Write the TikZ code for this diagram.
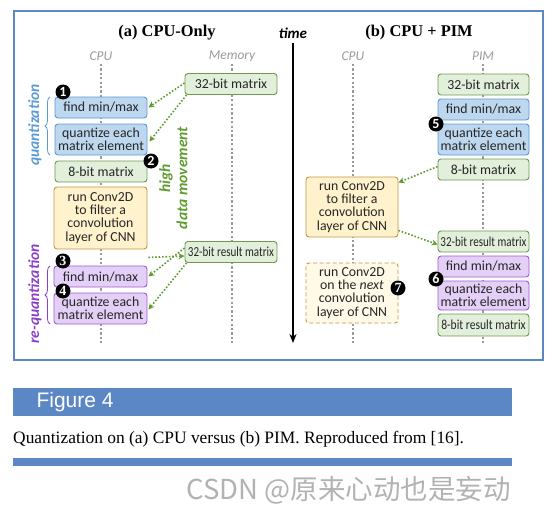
\documentclass[tikz,border=0pt]{standalone}
\usepackage{fontspec}
\setmainfont{Liberation Serif}
\newfontfamily\boxfont{Carlito}
\newfontfamily\arialfont{Liberation Sans}
\newfontfamily\cjkfont{Noto Sans CJK SC}
\usetikzlibrary{arrows.meta,decorations.pathreplacing}
\definecolor{frameblue}{HTML}{5B87C5}
\definecolor{gfill}{HTML}{E2EFDA}
\definecolor{gline}{HTML}{6E9A4F}
\definecolor{bfill}{HTML}{BDD7EE}
\definecolor{bline}{HTML}{5B9BD5}
\definecolor{pfill}{HTML}{E4CFF7}
\definecolor{pline}{HTML}{9A5ECF}
\definecolor{yfill}{HTML}{FFF2CC}
\definecolor{yline}{HTML}{BF9A3F}
\definecolor{arrowgreen}{HTML}{5E9C2F}
\definecolor{labgreen}{HTML}{5E9C2F}
\definecolor{labblue}{HTML}{5B9BD5}
\definecolor{labpurple}{HTML}{8A3FC8}
\definecolor{lanegray}{HTML}{9A9A9A}
\tikzset{
  bx/.style={draw, rounded corners=3pt, line width=0.9pt, align=center,
    font=\boxfont\fontsize{13.8}{13.2}\selectfont, text=black!85, inner sep=1pt,
    minimum width=92pt},
  gbx/.style={bx, fill=gfill, draw=gline, minimum height=21pt},
  bbx/.style={bx, fill=bfill, draw=bline},
  pbx/.style={bx, fill=pfill, draw=pline},
  ybx/.style={bx, fill=yfill, draw=yline},
  badge/.style={circle, fill=black, text=white, inner sep=0pt, minimum size=15pt,
    font=\boxfont\bfseries\fontsize{14}{14}\selectfont},
  badgeserif/.style={badge, font=\bfseries\fontsize{14}{14}\selectfont},
  lane/.style={draw=lanegray, line width=2.2pt, dash pattern=on 2.2pt off 2.2pt},
  lanelab/.style={text=lanegray, font=\boxfont\itshape\fontsize{13.5}{13.5}\selectfont},
  mv/.style={draw=arrowgreen, line width=1.6pt, dash pattern=on 1.6pt off 1.8pt,
    -{Stealth[length=6pt,width=6pt,fill=arrowgreen]}},
  ttl/.style={font=\bfseries\fontsize{16.4}{16.4}\selectfont},
  sidelab/.style={rotate=90, font=\boxfont\bfseries\itshape\fontsize{15.5}{15.5}\selectfont},
  brc/.style={decorate, decoration={brace, amplitude=5pt}, line width=0.8pt}
}
\begin{document}
\begin{tikzpicture}[x=1pt,y=-1pt]
\useasboundingbox (0,0) rectangle (555,514);
% outer frame
\draw[frameblue, line width=1.6pt] (14,11) rectangle (543,360);
% titles
\node[ttl] (ta) at (167,33) {(a) CPU-Only};
\node[font=\boxfont\bfseries\itshape\fontsize{15}{15}\selectfont] (tt) at (293,33) {time};
\node[ttl] (tb) at (419,33) {(b) CPU + PIM};
% lane labels
\node[lanelab] (lca) at (101,56) {CPU};
\node[lanelab] (lma) at (232,56) {Memory};
\node[lanelab] (lcb) at (353,56) {CPU};
\node[lanelab] (lpb) at (483,56) {PIM};
% lanes
\coordinate (ca1) at (101,64); \coordinate (ca2) at (101,344);
\coordinate (ma1) at (232,64); \coordinate (ma2) at (232,344);
\coordinate (cb1) at (353,64); \coordinate (cb2) at (353,344);
\coordinate (pb1) at (483,64); \coordinate (pb2) at (483,344);
\draw[lane] (ca1) -- (ca2);
\draw[lane] (ma1) -- (ma2);
\draw[lane] (cb1) -- (cb2);
\draw[lane] (pb1) -- (pb2);
% time arrow
\coordinate (t1) at (293,43); \coordinate (t2) at (293,343);
\draw[line width=1.6pt, -{Stealth[length=9pt,width=7pt]}] (t1) -- (t2);

% (a) boxes
\node[gbx] (m32a) at (231,84) {32-bit matrix};
\node[bbx, minimum height=21pt] (fa) at (101,107.5) {find min/max};
\node[bbx, minimum height=31pt] (qa) at (101,139.5) {quantize each\\matrix element};
\node[gbx] (m8a) at (101,171.5) {8-bit matrix};
\node[ybx, minimum height=62pt, minimum width=93pt] (ca) at (100.5,218) {run Conv2D\\to filter a\\convolution\\layer of CNN};
\node[gbx] (r32a) at (231,252) {\scalebox{0.8}[1]{32-bit result matrix}};
\node[pbx, minimum height=21pt, minimum width=93pt] (fa2) at (100.5,276.5) {find min/max};
\node[pbx, minimum height=31pt, minimum width=93pt] (qa2) at (100.5,308.5) {quantize each\\matrix element};

% (b) boxes
\node[gbx, minimum width=91pt] (m32b) at (483.5,84.5) {32-bit matrix};
\node[bbx, minimum height=21pt, minimum width=91pt] (fb) at (483.5,109.5) {find min/max};
\node[bbx, minimum height=31pt, minimum width=91pt] (qb) at (483.5,139.5) {quantize each\\matrix element};
\node[gbx, minimum width=91pt] (m8b) at (483.5,169.5) {8-bit matrix};
\node[ybx, minimum height=60pt] (cb) at (352,207) {run Conv2D\\to filter a\\convolution\\layer of CNN};
\node[gbx, minimum width=91pt] (r32b) at (483.5,241.5) {\scalebox{0.8}[1]{32-bit result matrix}};
\node[pbx, minimum height=21pt, minimum width=91pt] (fb2) at (483.5,266.5) {find min/max};
\node[pbx, minimum height=29pt, minimum width=91pt] (qb2) at (483.5,295.5) {quantize each\\matrix element};
\node[gbx, minimum width=91pt, minimum height=22pt] (r8b) at (483.5,325) {\scalebox{0.84}[1]{8-bit result matrix}};
\node[bx, fill=yfill!45, draw=yline, dashed, dash pattern=on 4pt off 2.5pt, minimum height=60pt] (nb) at (352,293) {run Conv2D\\on the \textit{next}\\convolution\\layer of CNN};

% badges
\node[badge] (n1) at (63,92) {1};
\node[badge] (n2) at (151,161) {2};
\node[badgeserif] (n3) at (63,261) {3};
\node[badgeserif] (n4) at (63,291) {4};
\node[badge] (n5) at (436,124) {5};
\node[badge] (n6) at (436,279) {6};
\node[badgeserif] (n7) at (398,288) {7};

% braces and labels
\coordinate (ba1) at (50,155); \coordinate (ba2) at (50,97);
\draw[brc, labblue] (ba1) -- (ba2);
\node[sidelab, text=labblue] (lq) at (35,125) {quantization};
\coordinate (bp1) at (50,324); \coordinate (bp2) at (50,266);
\draw[brc, labpurple] (bp1) -- (bp2);
\node[sidelab, text=labpurple] (lr) at (35,294) {re-quantization};
\node[sidelab, text=labgreen] (hd1) at (166,178) {high};
\node[sidelab, text=labgreen] (hd2) at (182,178) {data movement};

% data movement arrows
\draw[mv] ([yshift=1pt]m32a.west) -- ([xshift=1pt]fa.east);
\draw[mv] ([xshift=2pt]m32a.south west) -- ([xshift=2pt,yshift=-2pt]qa.east);
\draw[mv] ([xshift=1pt,yshift=-8pt]ca.south east) -- ([yshift=-4pt]r32a.west);
\draw[mv] ([yshift=4pt]r32a.west) -- ([xshift=1pt]fa2.east);
\draw[mv] ([xshift=2pt]r32a.south west) -- ([xshift=1pt,yshift=-1pt]qa2.east);
\draw[mv] ([yshift=3pt]m8b.west) -- ([yshift=-6pt]cb.north east);
\draw[mv] ([yshift=7pt]cb.south east) -- ([yshift=-3pt]r32b.west);

% caption
\fill[frameblue] (13,388) rectangle (512,416);
\node[anchor=west, text=white, font=\arialfont\fontsize{21}{21}\selectfont] (fig) at (33,402) {Figure 4};
\node[anchor=west, font=\fontsize{17.4}{18}\selectfont, inner sep=0pt] (cap) at (13,439) {Quantization on (a) CPU versus (b) PIM. Reproduced from [16].};
\fill[frameblue] (13,458) rectangle (512,466);
\node[anchor=east, text=black!30, font=\cjkfont\fontsize{27.5}{28}\selectfont, inner sep=0pt] (wm) at (511,490) {CSDN @原来心动也是妄动};
\end{tikzpicture}
\end{document}
